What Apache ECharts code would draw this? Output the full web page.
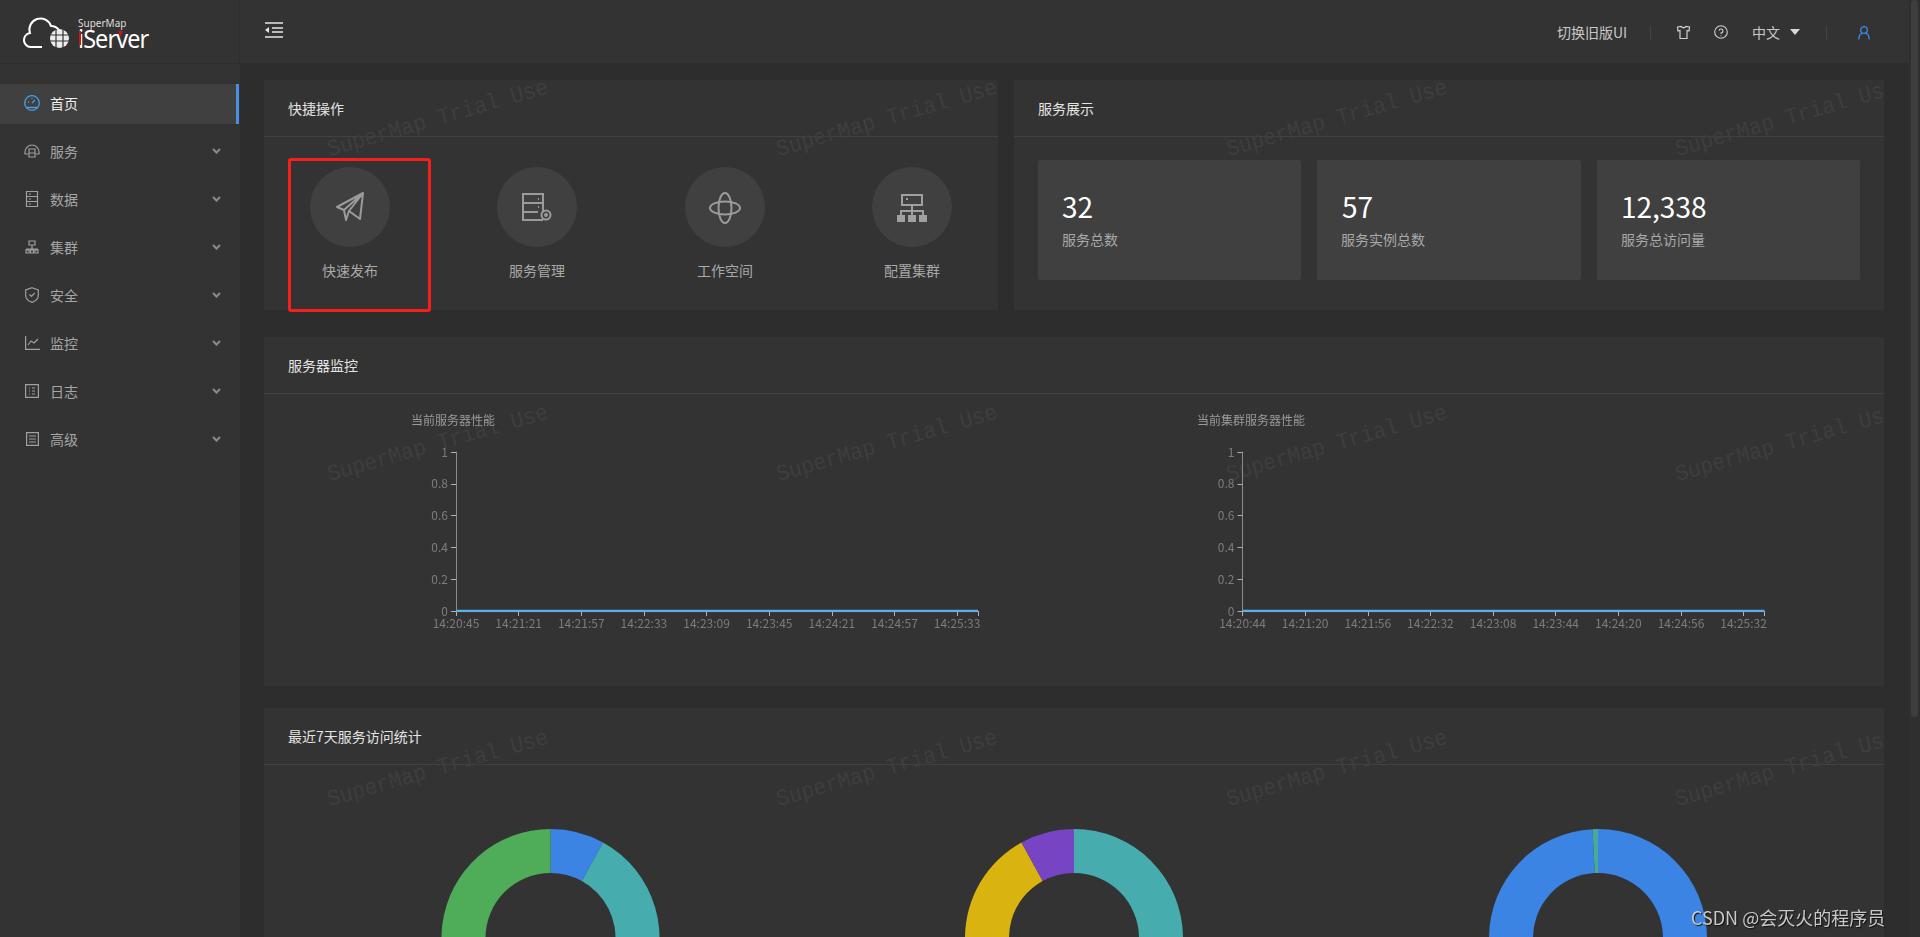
<!DOCTYPE html>
<html lang="zh"><head><meta charset="utf-8"><title>SuperMap iServer</title>
<script src="https://cdn.jsdelivr.net/npm/echarts@6/dist/echarts.min.js"></script>
<style>
html,body{margin:0;padding:0;width:1920px;height:937px;overflow:hidden;background:#2d2d2d;font-family:"Noto Sans CJK SC","Noto Sans",sans-serif;}
.a{position:absolute;white-space:nowrap;}
.c{transform:translate(-50%,-50%);}
.v{transform:translateY(-50%);}
.panel{position:absolute;background:#333;}
.line{position:absolute;height:1px;background:#414141;}
.card{position:absolute;background:#404040;border-radius:2px;top:160px;height:120px;}
.dot{position:absolute;width:80px;height:80px;border-radius:50%;background:#404040;top:167px;}
.ptitle{font-size:14px;color:#e4e4e4;}
.menu{font-size:14px;color:#a6a6a6;left:50px;}
.num{font-size:28px;color:#fff;line-height:1;}
.lab{font-size:14px;color:#a9a9a9;}
.wm{position:absolute;font-family:"Liberation Mono",monospace;font-size:23px;color:#3e3e3e;transform:translate(-50%,-50%) rotate(-16deg) scaleX(.92);white-space:pre;}
svg{position:absolute;overflow:visible;fill:none;}
#chart{position:absolute;left:0;top:0;width:1920px;height:937px;}
</style></head><body>
<div class="a" style="left:0;top:0;width:240px;height:937px;background:#333"></div>
<div class="a" style="left:240px;top:0;width:1669px;height:63px;background:#333"></div>
<div class="a" style="left:0;top:63px;width:240px;height:1px;background:#2d2d2d"></div>
<div class="a" style="left:239px;top:0;width:1px;height:63px;background:#2e2e2e"></div>
<div class="a" style="left:0;top:84px;width:236px;height:40px;background:#404040"></div>
<div class="a" style="left:236px;top:84px;width:3px;height:40px;background:#4a90e2"></div>

<div class="panel" style="left:264px;top:80px;width:734px;height:230px"></div>
<div class="panel" style="left:1014px;top:80px;width:870px;height:230px"></div>
<div class="panel" style="left:264px;top:337px;width:1620px;height:349px"></div>
<div class="panel" style="left:264px;top:708px;width:1620px;height:229px"></div>
<div class="line" style="left:264px;top:136px;width:734px"></div>
<div class="line" style="left:1014px;top:136px;width:870px"></div>
<div class="line" style="left:264px;top:393px;width:1620px"></div>
<div class="line" style="left:264px;top:764px;width:1620px"></div>

<div id="wms" class="a" style="left:264px;top:80px;width:1620px;height:857px;overflow:hidden"></div>

<div class="a ptitle v" style="left:288px;top:107.5px">快捷操作</div>
<div class="a ptitle v" style="left:1038px;top:107.5px">服务展示</div>
<div class="a ptitle v" style="left:288px;top:364.5px">服务器监控</div>
<div class="a ptitle v" style="left:288px;top:735.5px">最近7天服务访问统计</div>

<div class="dot" style="left:310px"></div><div class="dot" style="left:497px"></div>
<div class="dot" style="left:685px"></div><div class="dot" style="left:872px"></div>
<div class="a lab c" style="left:350px;top:270px">快速发布</div>
<div class="a lab c" style="left:537px;top:270px">服务管理</div>
<div class="a lab c" style="left:725px;top:270px">工作空间</div>
<div class="a lab c" style="left:912px;top:270px">配置集群</div>
<div class="a" style="left:288px;top:158px;width:137px;height:148px;border:3px solid #f5201a;border-radius:3px"></div>

<div class="card" style="left:1038px;width:263px"></div>
<div class="card" style="left:1317px;width:264px"></div>
<div class="card" style="left:1597px;width:263px"></div>
<div class="a num v" style="left:1062px;top:206px">32</div>
<div class="a num v" style="left:1342px;top:206px">57</div>
<div class="a num v" style="left:1621px;top:206px">12,338</div>
<div class="a lab v" style="left:1062px;top:239px">服务总数</div>
<div class="a lab v" style="left:1341px;top:239px">服务实例总数</div>
<div class="a lab v" style="left:1621px;top:239px">服务总访问量</div>

<!-- action icons -->
<svg style="left:336px;top:192px" width="30" height="30" stroke="#9b9b9b" stroke-width="2" stroke-linejoin="round"><path d="M1 15 L27 1 L24 27 L13 19 L10 28 L8 18 Z M8 18 L27 1 M13 19 L27 1"/></svg>
<svg style="left:521px;top:192px" width="32" height="30" stroke="#9b9b9b" stroke-width="2"><path d="M22 20 V2 H2 V28 H17 M2 11 H22 M2 20 H17 M2 28 H22"/><circle cx="25" cy="23" r="4.5"/><circle cx="25" cy="23" r="1"/><path d="M17 7h1M17 15h1"/></svg>
<svg style="left:709px;top:192px" width="32" height="32" stroke="#9b9b9b" stroke-width="2"><ellipse cx="16" cy="16" rx="15" ry="6.5"/><ellipse cx="16" cy="16" rx="6.5" ry="15"/></svg>
<svg style="left:897px;top:194px" width="30" height="28" stroke="#a0a0a0" stroke-width="2"><path d="M5 1H25V11H5Z M15 11V17 M4 22V17H26V22 M15 17V22 M9 5h2"/><path d="M1 22h6v5H1Z M12 22h6v5h-6Z M23 22h6v5h-6Z" fill="#a0a0a0"/></svg>

<!-- sidebar -->
<div class="a menu v" style="top:103px;color:#eee">首页</div>
<div class="a menu v" style="top:151px">服务</div>
<div class="a menu v" style="top:199px">数据</div>
<div class="a menu v" style="top:247px">集群</div>
<div class="a menu v" style="top:295px">安全</div>
<div class="a menu v" style="top:343px">监控</div>
<div class="a menu v" style="top:391px">日志</div>
<div class="a menu v" style="top:439px">高级</div>
<svg style="left:24px;top:95px" width="16" height="16" stroke="#4a9fe6" stroke-width="1.3"><circle cx="8" cy="8" r="7.3"/><path d="M2 12.5 H14 M8 8 L11 5 M4 7h1M8 3v1"/></svg>
<svg style="left:24px;top:143px" width="16" height="16" stroke="#a0a0a0" stroke-width="1.2"><path d="M1 9 A7 7 0 0 1 15 9 M1 9 V11 H4 M15 9 V11 H12 M5 6 H11 V14 H5Z M5 10 H11"/></svg>
<svg style="left:26px;top:191px" width="12" height="16" stroke="#a0a0a0" stroke-width="1.2"><path d="M0.5 0.5H11.5V15.5H0.5Z M0.5 5.5H11.5M0.5 10.5H11.5M3 3h2M3 8h2M3 13h2"/></svg>
<svg style="left:25px;top:240px" width="14" height="14" stroke="#a0a0a0" stroke-width="1.2"><path d="M4 1H10V5H4Z M1 9H13 M7 5V9 M1 10h3v3H1Z M5.5 10h3v3h-3Z M10 10h3v3h-3Z"/></svg>
<svg style="left:25px;top:287px" width="14" height="16" stroke="#a0a0a0" stroke-width="1.2"><path d="M7 .7 L13.3 3 V9 Q13 13 7 15.4 Q1 13 .7 9 V3 Z M4.5 7.5 L6.5 9.5 L9.8 5.8"/></svg>
<svg style="left:25px;top:336px" width="15" height="14" stroke="#a0a0a0" stroke-width="1.2"><path d="M.6 0V13.4H15 M3 9 L6 5 L9 7 L13 3"/></svg>
<svg style="left:25px;top:384px" width="14" height="14" stroke="#a0a0a0" stroke-width="1.2"><path d="M.6 .6H13.4V13.4H.6Z M4 4h1M7 4h3M4 7h1M7 7h3M4 10h1M7 10h3"/></svg>
<svg style="left:26px;top:432px" width="13" height="14" stroke="#a0a0a0" stroke-width="1.2"><path d="M.6 .6H12.4V13.4H.6Z M3 4H10 M3 7H10 M3 10H10"/></svg>
<svg style="left:212px;top:148px" width="9" height="300" stroke="#8a8a8a" stroke-width="2"><path d="M1 1 L4.5 4.5 L8 1 M1 49 L4.5 52.5 L8 49 M1 97 L4.5 100.5 L8 97 M1 145 L4.5 148.5 L8 145 M1 193 L4.5 196.5 L8 193 M1 241 L4.5 244.5 L8 241 M1 289 L4.5 292.5 L8 289"/></svg>

<!-- logo -->
<svg style="left:24px;top:17px" width="46" height="32" stroke="#fff" stroke-width="2"><path d="M18 30 H8 A7 7 0 0 1 6 16 A11 11 0 0 1 27 9 A10 10 0 0 1 35 13"/></svg>
<svg style="left:50px;top:29px" width="20" height="20"><circle cx="9.5" cy="9.5" r="9.5" fill="#eee"/><path d="M0 6H19M0 12H19M6 0V19M13 0V19" stroke="#333" stroke-width="1.2"/></svg>
<div class="a" style="left:78px;top:16px;font:10px/14px 'Noto Sans';color:#ddd">SuperMap</div>
<div class="a" style="left:78px;top:23px;font:26px/30px 'Noto Sans';color:#fff;letter-spacing:-1px;transform-origin:0 0;transform:scaleX(.9)">iServer</div>
<div class="a" style="left:79px;top:31px;width:2px;height:14px;background:#c4161c"></div>
<svg style="left:118px;top:31px" width="5" height="6"><path d="M0 0H5L2.5 6Z" fill="#c4161c"/></svg>

<!-- top bar -->
<svg style="left:265px;top:22px" width="18" height="16" stroke="#e6e6e6" stroke-width="1.7"><path d="M0 1H18M7 6H18M7 10H18M0 15H18"/><path d="M4 5V11L0 8Z" fill="#e6e6e6" stroke="none"/></svg>
<div class="a v" style="left:1557px;top:31.5px;font-size:14px;color:#c8c8c8">切换旧版UI</div>
<div class="a" style="left:1650px;top:26px;width:1px;height:14px;background:#444"></div>
<div class="a" style="left:1826px;top:26px;width:1px;height:14px;background:#444"></div>
<svg style="left:1677px;top:26px" width="13" height="13" stroke="#d0d0d0" stroke-width="1.2"><path d="M.5 1 L4 .5 Q6.5 3 9 .5 L12.5 1 L12 5 L10 4.5 V12.5 H3 V4.5 L1 5 Z"/></svg>
<svg style="left:1714px;top:25px" width="14" height="14" stroke="#d0d0d0" stroke-width="1.1"><circle cx="7" cy="7" r="6.3"/><path d="M5 5.5 A2 2 0 1 1 7 8 V9 M7 10.5 V11.3"/></svg>
<div class="a v" style="left:1752px;top:31.5px;font-size:14px;color:#c8c8c8">中文</div>
<svg style="left:1790px;top:29px" width="10" height="6"><path d="M0 0H10L5 6Z" fill="#d8d8d8"/></svg>
<svg style="left:1858px;top:26px" width="12" height="14" stroke="#3b8be8" stroke-width="1.3"><circle cx="6" cy="4" r="3.3"/><path d="M.8 13.5 Q1 8 4 7.4 M11.2 13.5 Q11 8 8 7.4"/></svg>

<!-- scrollbar -->
<div class="a" style="left:1909px;top:0;width:11px;height:937px;background:#2f2f2f"></div>
<div class="a" style="left:1911px;top:0;width:7px;height:717px;border-radius:4px;background:#3e3e3e"></div>

<div id="chart"></div>
<div class="a v" style="left:1691px;top:916.5px;font-size:18px;color:#c9c9c9;text-shadow:1px 1px 1px #111">CSDN @会灭火的程序员</div>

<script>
const watermarkText = 'SuperMap Trial Use';
const serverTimes = ['14:20:45','14:20:57','14:21:09','14:21:21','14:21:33','14:21:45','14:21:57','14:22:09','14:22:21','14:22:33','14:22:45','14:22:57','14:23:09','14:23:21','14:23:33','14:23:45','14:23:57','14:24:09','14:24:21','14:24:33','14:24:45','14:24:57','14:25:09','14:25:21','14:25:33','14:25:45'];
const clusterTimes = ['14:20:44','14:20:56','14:21:08','14:21:20','14:21:32','14:21:44','14:21:56','14:22:08','14:22:20','14:22:32','14:22:44','14:22:56','14:23:08','14:23:20','14:23:32','14:23:44','14:23:56','14:24:08','14:24:20','14:24:32','14:24:44','14:24:56','14:25:08','14:25:20','14:25:32','14:25:44'];
const serverValues = [0,0,0,0,0,0,0,0,0,0,0,0,0,0,0,0,0,0,0,0,0,0,0,0,0,0];
const clusterValues = [0,0,0,0,0,0,0,0,0,0,0,0,0,0,0,0,0,0,0,0,0,0,0,0,0,0];
const donutA = [8, 44, 48];
const donutB = [50, 42, 8];
const donutC = [99.2, 0.8];
const colorsA = ['#3b84e3', '#46acad', '#4fac58'];
const colorsB = ['#46acad', '#d9b30f', '#7745c4'];
const colorsC = ['#3b84e3', '#46ac9a'];

// watermark tiles
const wms = document.getElementById('wms');
[437.5, 887, 1336.5, 1786].forEach(cx => [119, 444, 769].forEach(cy => {
  const s = document.createElement('div');
  s.className = 'wm'; s.textContent = watermarkText;
  s.style.left = (cx - 264) + 'px'; s.style.top = (cy - 80) + 'px';
  wms.appendChild(s);
}));

const font = '"Noto Sans CJK SC","Noto Sans",sans-serif';
function xAxis(idx, data) {
  const last = data.length - 1;
  return { type:'category', gridIndex:idx, data, boundaryGap:false,
    axisLine:{lineStyle:{color:'#8c8c8c',width:1}},
    axisTick:{length:5,interval:(i)=>i%3===0||i===last,lineStyle:{color:'#b0b0b0'}},
    axisLabel:{interval:(i)=>i%3===0,hideOverlap:false,color:'#7c7c7c',fontSize:12,fontFamily:font,margin:6},
    splitLine:{show:false} };
}
function yAxis(idx) {
  return { type:'value', gridIndex:idx, min:0, max:1, interval:0.2,
    axisLine:{show:true,lineStyle:{color:'#8c8c8c',width:1}},
    axisTick:{show:true,length:5,lineStyle:{color:'#b0b0b0'}},
    axisLabel:{color:'#7c7c7c',fontSize:12,fontFamily:font,margin:8,padding:[0,0,2,0]},
    splitLine:{show:false} };
}
function line(idx, data) {
  return { type:'line', xAxisIndex:idx, yAxisIndex:idx, data, symbol:'none', silent:true,
    lineStyle:{color:'#57b0e8',width:2.5}, itemStyle:{color:'#57b0e8'}, animation:false };
}
function donut(cx, values, colors) {
  return { type:'pie', center:[cx,938], radius:[65,109], startAngle:90, clockwise:true,
    label:{show:false}, labelLine:{show:false}, silent:true, animation:false,
    data: values.map((v,i)=>({value:v,itemStyle:{color:colors[i]}})) };
}
const chart = echarts.init(document.getElementById('chart'), null, {renderer:'canvas'});
chart.setOption({
  backgroundColor:'transparent', animation:false,
  title:[
    {text:'当前服务器性能',left:411,top:414,textStyle:{color:'#9a9a9a',fontSize:12,fontWeight:'normal',fontFamily:font},padding:0},
    {text:'当前集群服务器性能',left:1197,top:414,textStyle:{color:'#9a9a9a',fontSize:12,fontWeight:'normal',fontFamily:font},padding:0}
  ],
  grid:[
    {left:456,top:452,width:522,height:159,containLabel:false},
    {left:1242.5,top:452,width:522,height:159,containLabel:false}
  ],
  xAxis:[xAxis(0,serverTimes),xAxis(1,clusterTimes)],
  yAxis:[yAxis(0),yAxis(1)],
  series:[
    line(0,serverValues),line(1,clusterValues),
    donut(550.5,donutA,colorsA),donut(1074,donutB,colorsB),donut(1598,donutC,colorsC)
  ]
});
</script>
</body></html>
